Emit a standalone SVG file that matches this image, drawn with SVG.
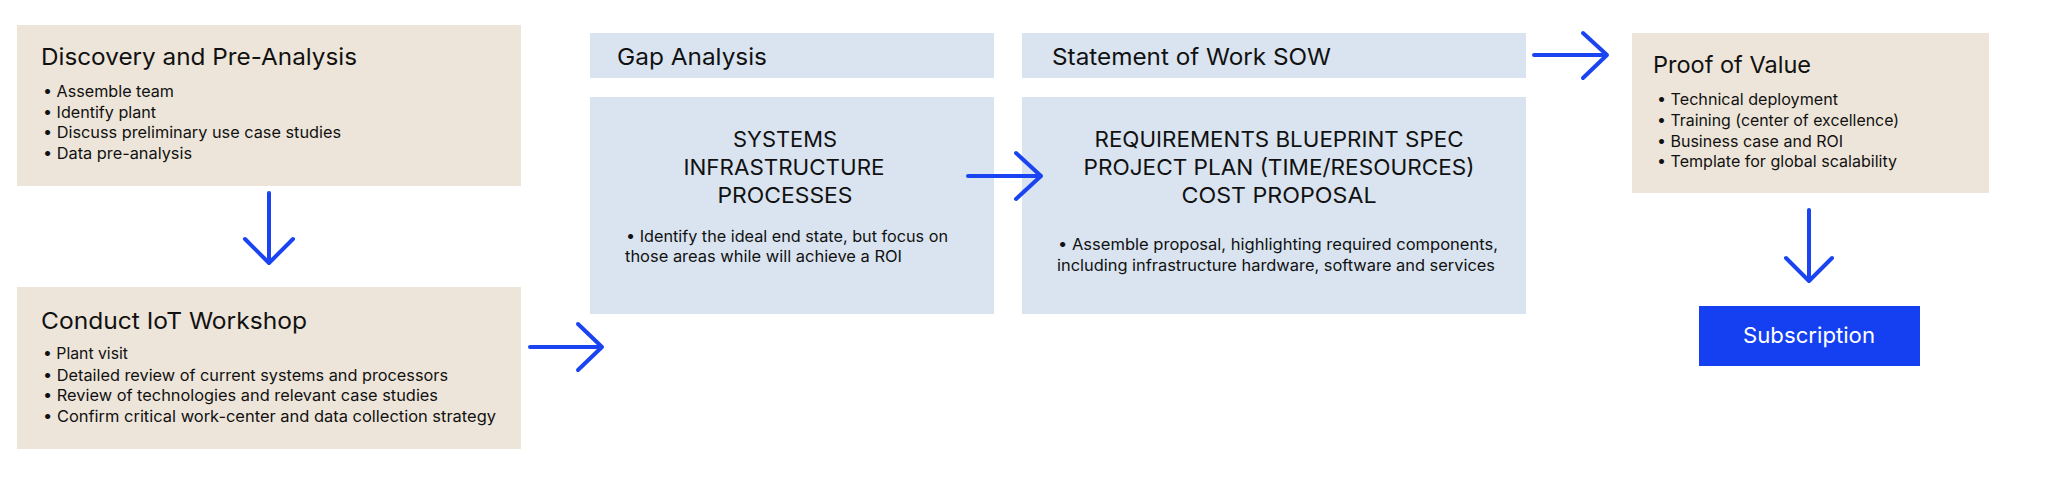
<svg xmlns="http://www.w3.org/2000/svg" width="2048" height="491" viewBox="0 0 2048 491">
<style>
.beige{fill:#ede5d9}
.blue{fill:#d9e4f0}
text{font-family:Inter,"Liberation Sans",Arial,sans-serif;fill:#111}
.title{font-size:23.5px}
.caps{font-size:22px;text-anchor:middle}
.bul{font-size:16px}
.arrow{fill:none;stroke:#1a44f2;stroke-width:4;stroke-linecap:round;stroke-linejoin:round}
.sub{fill:#1440f2}
.subt{font-size:22px;fill:#fff;text-anchor:middle}
</style>
<rect width="2048" height="491" fill="#fff"/>
<g id="discovery">
<rect class="beige" x="17" y="25" width="504" height="161"/>
<text class="title" x="41" y="65" textLength="316" lengthAdjust="spacingAndGlyphs">Discovery and Pre-Analysis</text>
<text class="bul" x="43" y="97" textLength="131" lengthAdjust="spacingAndGlyphs">• Assemble team</text>
<text class="bul" x="43" y="118" textLength="113" lengthAdjust="spacingAndGlyphs">• Identify plant</text>
<text class="bul" x="43" y="138" textLength="298" lengthAdjust="spacingAndGlyphs">• Discuss preliminary use case studies</text>
<text class="bul" x="43" y="159" textLength="149" lengthAdjust="spacingAndGlyphs">• Data pre-analysis</text>
</g>
<g id="workshop">
<rect class="beige" x="17" y="287" width="504" height="162"/>
<text class="title" x="41" y="329" textLength="266" lengthAdjust="spacingAndGlyphs">Conduct IoT Workshop</text>
<text class="bul" x="43" y="359" textLength="85" lengthAdjust="spacingAndGlyphs">• Plant visit</text>
<text class="bul" x="43" y="381" textLength="405" lengthAdjust="spacingAndGlyphs">• Detailed review of current systems and processors</text>
<text class="bul" x="43" y="401" textLength="395" lengthAdjust="spacingAndGlyphs">• Review of technologies and relevant case studies</text>
<text class="bul" x="43" y="422" textLength="453" lengthAdjust="spacingAndGlyphs">• Confirm critical work-center and data collection strategy</text>
</g>
<g id="gap-header">
<rect class="blue" x="590" y="33" width="404" height="45"/>
<text class="title" x="617" y="65" textLength="150" lengthAdjust="spacingAndGlyphs">Gap Analysis</text>
</g>
<g id="gap-body">
<rect class="blue" x="590" y="97" width="404" height="217"/>
<text class="caps" x="785" y="147" textLength="104" lengthAdjust="spacingAndGlyphs">SYSTEMS</text>
<text class="caps" x="784" y="175" textLength="201" lengthAdjust="spacingAndGlyphs">INFRASTRUCTURE</text>
<text class="caps" x="785" y="203" textLength="135" lengthAdjust="spacingAndGlyphs">PROCESSES</text>
<text class="bul" x="626" y="242" textLength="322" lengthAdjust="spacingAndGlyphs">• Identify the ideal end state, but focus on</text>
<text class="bul" x="625" y="262" textLength="277" lengthAdjust="spacingAndGlyphs">those areas while will achieve a ROI</text>
</g>
<g id="sow-header">
<rect class="blue" x="1022" y="33" width="504" height="45"/>
<text class="title" x="1052" y="65" textLength="279" lengthAdjust="spacingAndGlyphs">Statement of Work SOW</text>
</g>
<g id="sow-body">
<rect class="blue" x="1022" y="97" width="504" height="217"/>
<text class="caps" x="1279" y="147" textLength="369" lengthAdjust="spacingAndGlyphs">REQUIREMENTS BLUEPRINT SPEC</text>
<text class="caps" x="1279" y="175" textLength="391" lengthAdjust="spacingAndGlyphs">PROJECT PLAN (TIME/RESOURCES)</text>
<text class="caps" x="1279" y="203" textLength="195" lengthAdjust="spacingAndGlyphs">COST PROPOSAL</text>
<text class="bul" x="1058" y="250" textLength="440" lengthAdjust="spacingAndGlyphs">• Assemble proposal, highlighting required components,</text>
<text class="bul" x="1057" y="271" textLength="438" lengthAdjust="spacingAndGlyphs">including infrastructure hardware, software and services</text>
</g>
<g id="proof-of-value">
<rect class="beige" x="1632" y="33" width="357" height="160"/>
<text class="title" x="1653" y="73" textLength="158" lengthAdjust="spacingAndGlyphs">Proof of Value</text>
<text class="bul" x="1657" y="105" textLength="181" lengthAdjust="spacingAndGlyphs">• Technical deployment</text>
<text class="bul" x="1657" y="126" textLength="242" lengthAdjust="spacingAndGlyphs">• Training (center of excellence)</text>
<text class="bul" x="1657" y="147" textLength="186" lengthAdjust="spacingAndGlyphs">• Business case and ROI</text>
<text class="bul" x="1657" y="167" textLength="240" lengthAdjust="spacingAndGlyphs">• Template for global scalability</text>
</g>
<g id="subscription">
<rect class="sub" x="1699" y="306" width="221" height="60"/>
<text class="subt" x="1809" y="343" textLength="132" lengthAdjust="spacingAndGlyphs">Subscription</text>
</g>
<g id="connectors">
<path class="arrow" d="M269 193 V263 M245 239 L269 263 L293 239"/>
<path class="arrow" d="M530 347 H602 M578 324 L602 347 L578 370"/>
<path class="arrow" d="M968 176 H1041 M1016 153 L1041 176 L1016 199"/>
<path class="arrow" d="M1534 55 H1607 M1583 33 L1607 55 L1583 78"/>
<path class="arrow" d="M1809 210 V281 M1786 258 L1809 281 L1832 258"/>
</g>
</svg>
